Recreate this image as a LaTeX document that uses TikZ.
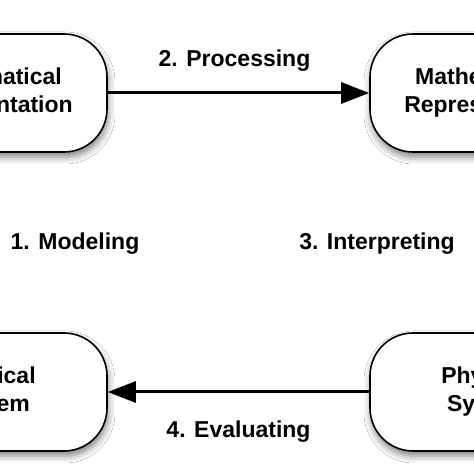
\documentclass[tikz,border=0pt]{standalone}
\usepackage{fontspec}
\setmainfont{Liberation Sans}
\usetikzlibrary {arrows.meta, positioning}
\usetikzlibrary {shadows, shadows.blur}

\begin{document}
\begin{tikzpicture}[x=1pt, y=1pt, >={Triangle[length=28pt, width=21pt]},
    box/.style={draw, line width=1.6pt, fill=white, rounded corners=43pt,
        minimum width=236pt, minimum height=118pt, align=center,
        blur shadow={shadow xshift=1pt, shadow yshift=-5pt, shadow blur radius=7pt, shadow opacity=50}},
    lbl/.style={font=\bfseries\fontsize{23}{28}\selectfont},
    every node/.style={font=\bfseries\fontsize{23}{28}\selectfont}]
    \useasboundingbox (0, 0) rectangle (474, 474);
    \fill[white] (0, 0) rectangle (474, 474);
    \clip (0, 0) rectangle (474, 474);
    % boxes
    \node[box] (ML) at (-11, 381) {Mathematical\\Representation};
    \node[box] (MR) at (488, 381) {Mathematical\\Representation};
    \node[box] (PL) at (-11, 82) {Physical\\System};
    \node[box] (PR) at (488, 82) {Physical\\System};
    % arrows
    \draw[->, line width=3pt] (ML) -- (MR) node[lbl, midway, above=17pt, xshift=-4pt] (proc) {2. Processing};
    \draw[->, line width=3pt] (PR) -- (PL) node[lbl, midway, below=24pt] (eval) {4. Evaluating};
    \node[lbl] (model) at (75, 230) {1. Modeling};
    \node[lbl] (interp) at (377, 230) {3. Interpreting};
\end{tikzpicture}
\end{document}
